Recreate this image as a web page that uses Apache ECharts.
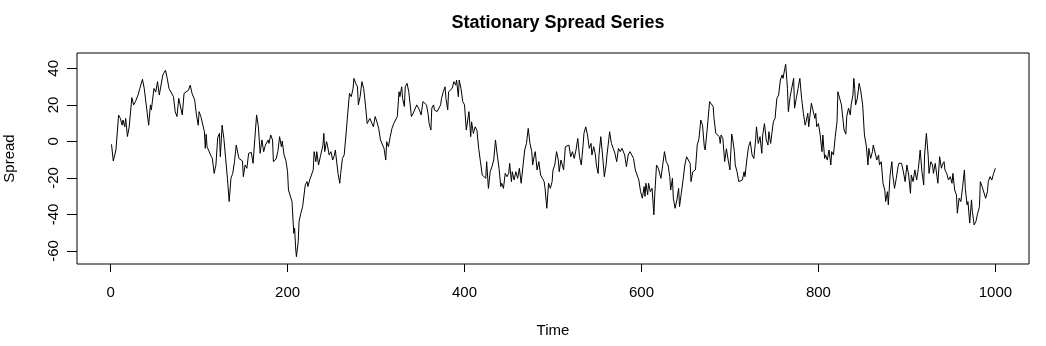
<!DOCTYPE html>
<html>
<head>
<meta charset="utf-8">
<title>Stationary Spread Series</title>
<script src="https://cdn.jsdelivr.net/npm/echarts@6/dist/echarts.min.js"></script>
<style>
  html, body { margin: 0; padding: 0; background: #fff; }
  #chart { width: 1046px; height: 346px; }
</style>
</head>
<body>
<div id="chart"></div>
<script>
// time index and spread values
const time = [
  1, 3, 6, 9, 11, 13, 14, 16, 17, 19, 21, 24, 26, 28, 31, 33, 36, 38, 40, 43,
  45, 46, 49, 51, 53, 55, 57, 59, 62, 64, 66, 68, 71, 73, 75, 77, 79, 81, 83, 85,
  88, 90, 92, 95, 97, 99, 100, 102, 104, 106, 107, 108, 109, 111, 113, 115, 117, 119, 121, 123,
  124, 126, 128, 130, 132, 134, 136, 138, 140, 142, 145, 147, 149, 150, 152, 154, 156, 157, 159, 161,
  163, 165, 167, 169, 171, 173, 175, 178, 179, 181, 183, 184, 187, 189, 191, 193, 194, 196, 198, 200,
  201, 203, 205, 207, 208, 209, 210, 212, 213, 215, 217, 220, 222, 223, 225, 227, 229, 230, 232, 233,
  235, 237, 238, 240, 241, 242, 244, 245, 247, 249, 251, 253, 254, 256, 257, 259, 260, 262, 264, 266,
  268, 270, 272, 274, 275, 277, 279, 280, 282, 284, 286, 288, 290, 291, 293, 295, 297, 299, 301, 303,
  305, 307, 309, 311, 312, 314, 316, 318, 320, 322, 324, 326, 327, 329, 330, 332, 333, 335, 337, 338,
  340, 342, 344, 346, 347, 349, 351, 353, 355, 357, 359, 360, 362, 363, 365, 366, 368, 369, 371, 373,
  374, 376, 378, 379, 381, 382, 384, 386, 388, 390, 391, 393, 394, 396, 398, 400, 402, 405, 407, 408,
  410, 412, 414, 416, 418, 420, 422, 424, 425, 427, 429, 431, 433, 435, 437, 439, 441, 442, 444, 446,
  448, 450, 451, 453, 454, 456, 458, 460, 462, 464, 466, 468, 470, 472, 474, 476, 477, 479, 480, 482,
  484, 486, 488, 490, 491, 493, 495, 497, 499, 500, 502, 504, 506, 507, 509, 511, 512, 514, 516, 518,
  520, 522, 524, 526, 528, 530, 532, 534, 535, 537, 539, 541, 543, 544, 546, 548, 549, 551, 552, 554,
  556, 558, 560, 561, 563, 564, 566, 568, 570, 572, 574, 576, 578, 580, 581, 583, 585, 587, 589, 591,
  593, 595, 597, 599, 601, 603, 604, 605, 607, 608, 610, 612, 614, 615, 617, 619, 621, 622, 624, 626,
  628, 630, 632, 633, 635, 636, 638, 640, 642, 643, 645, 647, 649, 651, 653, 655, 656, 658, 659, 661,
  663, 665, 667, 669, 671, 672, 674, 675, 677, 679, 681, 682, 684, 686, 688, 689, 690, 692, 694, 696,
  698, 700, 702, 703, 705, 706, 708, 710, 712, 714, 716, 717, 719, 721, 723, 725, 727, 729, 730, 732,
  734, 736, 737, 739, 741, 743, 744, 746, 748, 749, 751, 753, 755, 757, 759, 760, 762, 763, 765, 766,
  768, 770, 772, 773, 775, 777, 779, 781, 783, 785, 786, 788, 789, 791, 792, 794, 796, 797, 798, 800,
  802, 804, 805, 807, 808, 810, 812, 814, 815, 817, 819, 821, 822, 824, 826, 828, 829, 831, 832, 834,
  836, 837, 839, 840, 841, 842, 844, 846, 848, 850, 852, 854, 856, 857, 859, 861, 862, 864, 866, 868,
  869, 871, 873, 875, 876, 878, 879, 881, 883, 884, 886, 888, 890, 891, 893, 894, 896, 898, 900, 902,
  904, 905, 907, 909, 911, 913, 915, 917, 919, 920, 922, 924, 925, 927, 929, 930, 932, 934, 935, 937,
  939, 940, 942, 943, 945, 947, 949, 951, 952, 954, 956, 957, 959, 961, 963, 965, 966, 968, 969, 971,
  973, 974, 976, 978, 980, 982, 983, 985, 987, 989, 991, 992, 994, 996, 998, 1000
];
const spread = [
  -1.6, -10.7, -4.7, 14.4, 12.6, 8.9, 11.7, 8, 12.6, 2.7, 8, 24, 20, 21.7, 25.4, 29, 34, 29, 29.9, 8.9,
  20, 17.2, 29, 27, 32.7, 25.4, 24.5, 36.4, 39, 34.5, 29, 30, 24.5, 16.3, 13.6, 23.6, 24.5, 14.5, 26.3, 25.4,
  28, 30.8, 26.3, 22.7, 14.5, 8.9, 16.3, 13.6, 14.5, 5.3, -3.8, 3.9, -2.9, -2, -7.4, -9.3, -17.5, -12.9, 2, 4.4,
  -8.4, 8.9, 1.6, -9.3, -20.2, -32.9, -20.2, -17.5, -11.1, -2, -9.3, -9.6, -10.7, -19.3, -12.9, -14.7, -6.5, -7.4, -6, -12,
  1.6, 14.5, 8, -6.5, 0.8, -5.6, -2, 0.8, -1.1, 3.5, 0.8, -11.1, -9.6, -5.6, 2.6, -2.9, 0.2, -7.4, -10.2, -16.6,
  -26.6, -25.7, -32.9, -50.3, -47.6, -57.6, -63.1, -54.9, -43.9, -39.3, -35.7, -23.8, -22, -24.7, -21.1, -21.1, -15.6, -5.6, -11.1, -5.6,
  -12.9, -8.4, -9.3, -2, 4.4, -5.6, -0.1, -2, -7.4, -5.6, -10.2, -7.4, -4.7, -5.6, -17.5, -22.9, -17.5, -9.3, -7.4, 3.5,
  15.4, 26.3, 24.5, 29, 34.5, 31.8, 29.9, 20, 24.5, 32.7, 29, 20, 9.8, 10.7, 12.6, 11.7, 8, 13.6, 10.7, 7.1,
  0.8, 1.6, -3.8, -10.2, -0.1, -2.9, 2.6, 7.1, 9.8, 10.7, 13.6, 27.2, 24.5, 29.9, 23.6, 19.1, 29.9, 31.8, 27.2, 22.7,
  13.6, 15.4, 16.3, 20, 20.9, 17.2, 14.5, 21.8, 22.7, 20, 14.5, 9.8, 6.2, 18.2, 20, 17.2, 18.2, 16.3, 15.4, 20,
  23.6, 27.2, 29.9, 23.6, 17.2, 27.2, 27.2, 29, 32.7, 30.8, 33.6, 24.5, 33.6, 29, 21.8, 20, 6.2, 16.3, 2.6, 10.7,
  4.4, 8, 6.2, -3.8, -11.1, -18.4, -17.5, -20.2, -11.1, -25.7, -16.6, -13.8, -10.2, 0.8, -7.4, -14.7, -24.7, -22.9, -25.7, -17.5,
  -19.3, -17.5, -12, -22, -16.6, -21.1, -16.6, -20.2, -14.7, -22.9, -22.9, -4.7, -1.1, 7.1, -1.1, -5.6, -12.9, -7.4, -5.6, -15.6,
  -11.1, -18.4, -20.2, -22, -25.7, -36.6, -22.9, -25.7, -22, -15.6, -12.9, -5.6, -10.2, -16.6, -10.2, -11.1, -15.6, -2.9, -3.8, -2,
  -8.4, -5.6, -9.3, -4.7, 1.6, -8.4, -12.9, -2, 4.4, 8, 3.5, -3.8, -1.1, -7.4, -2.9, -7.4, -12.9, -17.5, -7.4, 2.6,
  -7.4, -19.3, -12.9, -7.4, 0.8, 5.3, -1.1, -3.8, -6.5, -11.1, -3.8, -5.6, -3.8, -3.8, -7.4, -13.8, -7.4, -5.6, -7.4, -9.3,
  -15.6, -14.7, -21.1, -27.5, -31.1, -24.7, -30.1, -22.9, -29.3, -22.9, -27.5, -25.7, -40.2, -29.3, -12.9, -14.7, -13.8, -20.2, -12.9, -5.6,
  -11.1, -12.9, -19.3, -26.6, -20.2, -31.1, -36.6, -32, -25.7, -35.7, -28.4, -21.1, -12.9, -8.4, -8.4, -12, -22, -16.6, -17.5, -15.6,
  -2, 1.6, 11.7, 8.9, -2.9, -4.7, 5.3, 10.7, 21.8, 21.8, 19.1, 12.6, 4.4, 3.5, 2.6, -1.1, 3.5, 1.6, -11.1, -4,
  -10.2, -15.6, 4, 1.6, -5.6, -12.9, -16.6, -22, -22.9, -21.1, -16.6, -19.3, -10.2, -2.9, -0.1, -7.4, -9.3, 0.8, 8, -1.1,
  2.6, -6.5, 3.5, 9.8, 0.8, -2, 5.3, -1.1, -1.1, 10.7, 12.6, 23.6, 25.4, 33.6, 36.4, 34.5, 40, 42.2, 29, 16.3,
  24.5, 25.4, 34.5, 18.2, 23.6, 29, 34.5, 23.6, 15.4, 8.9, 10.7, 15.4, 8, 7.1, 20.9, 20.4, 12.6, 15.4, 8, 9.8,
  3.5, -5.6, 3.5, -9.3, -7.4, -10.2, -4.7, -12.9, -5.6, -7.4, 2.6, 10.7, 27.2, 27.6, 20, 19.1, 6.2, 4, 13.6, 18.2,
  14.5, 20, 25.4, 34.5, 29, 20, 23.6, 31.8, 27.2, 20, 3.5, -2, -12.9, -3.8, -9.3, -5.6, -2, -2.9, -10.2, -7.4,
  -12.9, -11.1, -22.9, -26.6, -32.9, -27.5, -34.7, -18.4, -11.1, -18.4, -25.7, -20.2, -13.8, -12, -11.1, -12, -16.6, -22, -12.9, -18.4,
  -28.4, -18.4, -22, -15.6, -21.1, -14.7, -4.7, -16.6, -23.8, -7.4, 4.4, -7.4, -17.5, -11.1, -12.9, -17.5, -12, -19.3, -22.9, -8.4,
  -14.7, -12.9, -11.1, -15.6, -17.5, -21.1, -19.3, -22.9, -17.5, -26.6, -29.3, -39.3, -31.1, -32.9, -24.7, -15.6, -25.7, -34.7, -32.9, -44.7,
  -32, -38.4, -45.7, -43.8, -39.3, -35.7, -22, -24.7, -25.7, -31.1, -27.5, -22, -19.3, -21.1, -17.5, -14.7
];
const xTicks = [0, 200, 400, 600, 800, 1000];
const yTicks = [-60, -40, -20, 0, 20, 40];

const chart = echarts.init(document.getElementById('chart'), null, { renderer: 'canvas' });
const fontFamily = '"Liberation Sans", Arial, Helvetica, sans-serif';

const option = {
  animation: false,
  backgroundColor: '#ffffff',
  title: {
    text: 'Stationary Spread Series',
    left: 553,
    top: 9,
    textAlign: 'center',
    textStyle: { fontFamily: fontFamily, fontSize: 18, fontWeight: 'bold', color: '#000' }
  },
  grid: {
    left: 77,
    top: 53,
    width: 952,
    height: 211,
    containLabel: false,
    outerBoundsMode: 'none',
    show: true,
    borderColor: '#000',
    borderWidth: 1,
    backgroundColor: 'transparent'
  },
  xAxis: {
    type: 'value',
    min: -38,
    max: 1038,
    name: 'Time',
    nameLocation: 'middle',
    nameGap: 59,
    nameTextStyle: { fontFamily: fontFamily, fontSize: 15, color: '#000' },
    axisLine: { show: false, onZero: false },
    axisTick: { show: true, length: 8, customValues: xTicks, lineStyle: { color: '#000' } },
    axisLabel: {
      customValues: xTicks, margin: 21, fontFamily: fontFamily, fontSize: 15, color: '#000',
      formatter: v => String(v)
    },
    splitLine: { show: false }
  },
  yAxis: {
    type: 'value',
    min: -67.1,
    max: 48.4,
    name: 'Spread',
    nameLocation: 'middle',
    nameGap: 60,
    nameTextStyle: { fontFamily: fontFamily, fontSize: 15, color: '#000' },
    axisLine: { show: false, onZero: false },
    axisTick: { show: true, length: 10, customValues: yTicks, lineStyle: { color: '#000' } },
    axisLabel: {
      customValues: yTicks, rotate: 90, margin: 16, fontFamily: fontFamily, fontSize: 15, color: '#000',
      formatter: v => String(v)
    },
    splitLine: { show: false }
  },
  series: [{
    type: 'line',
    data: time.map((t, i) => [t, spread[i]]),
    showSymbol: false,
    lineStyle: { color: '#000', width: 1 },
    silent: true
  }]
};

chart.setOption(option);
</script>
</body>
</html>
